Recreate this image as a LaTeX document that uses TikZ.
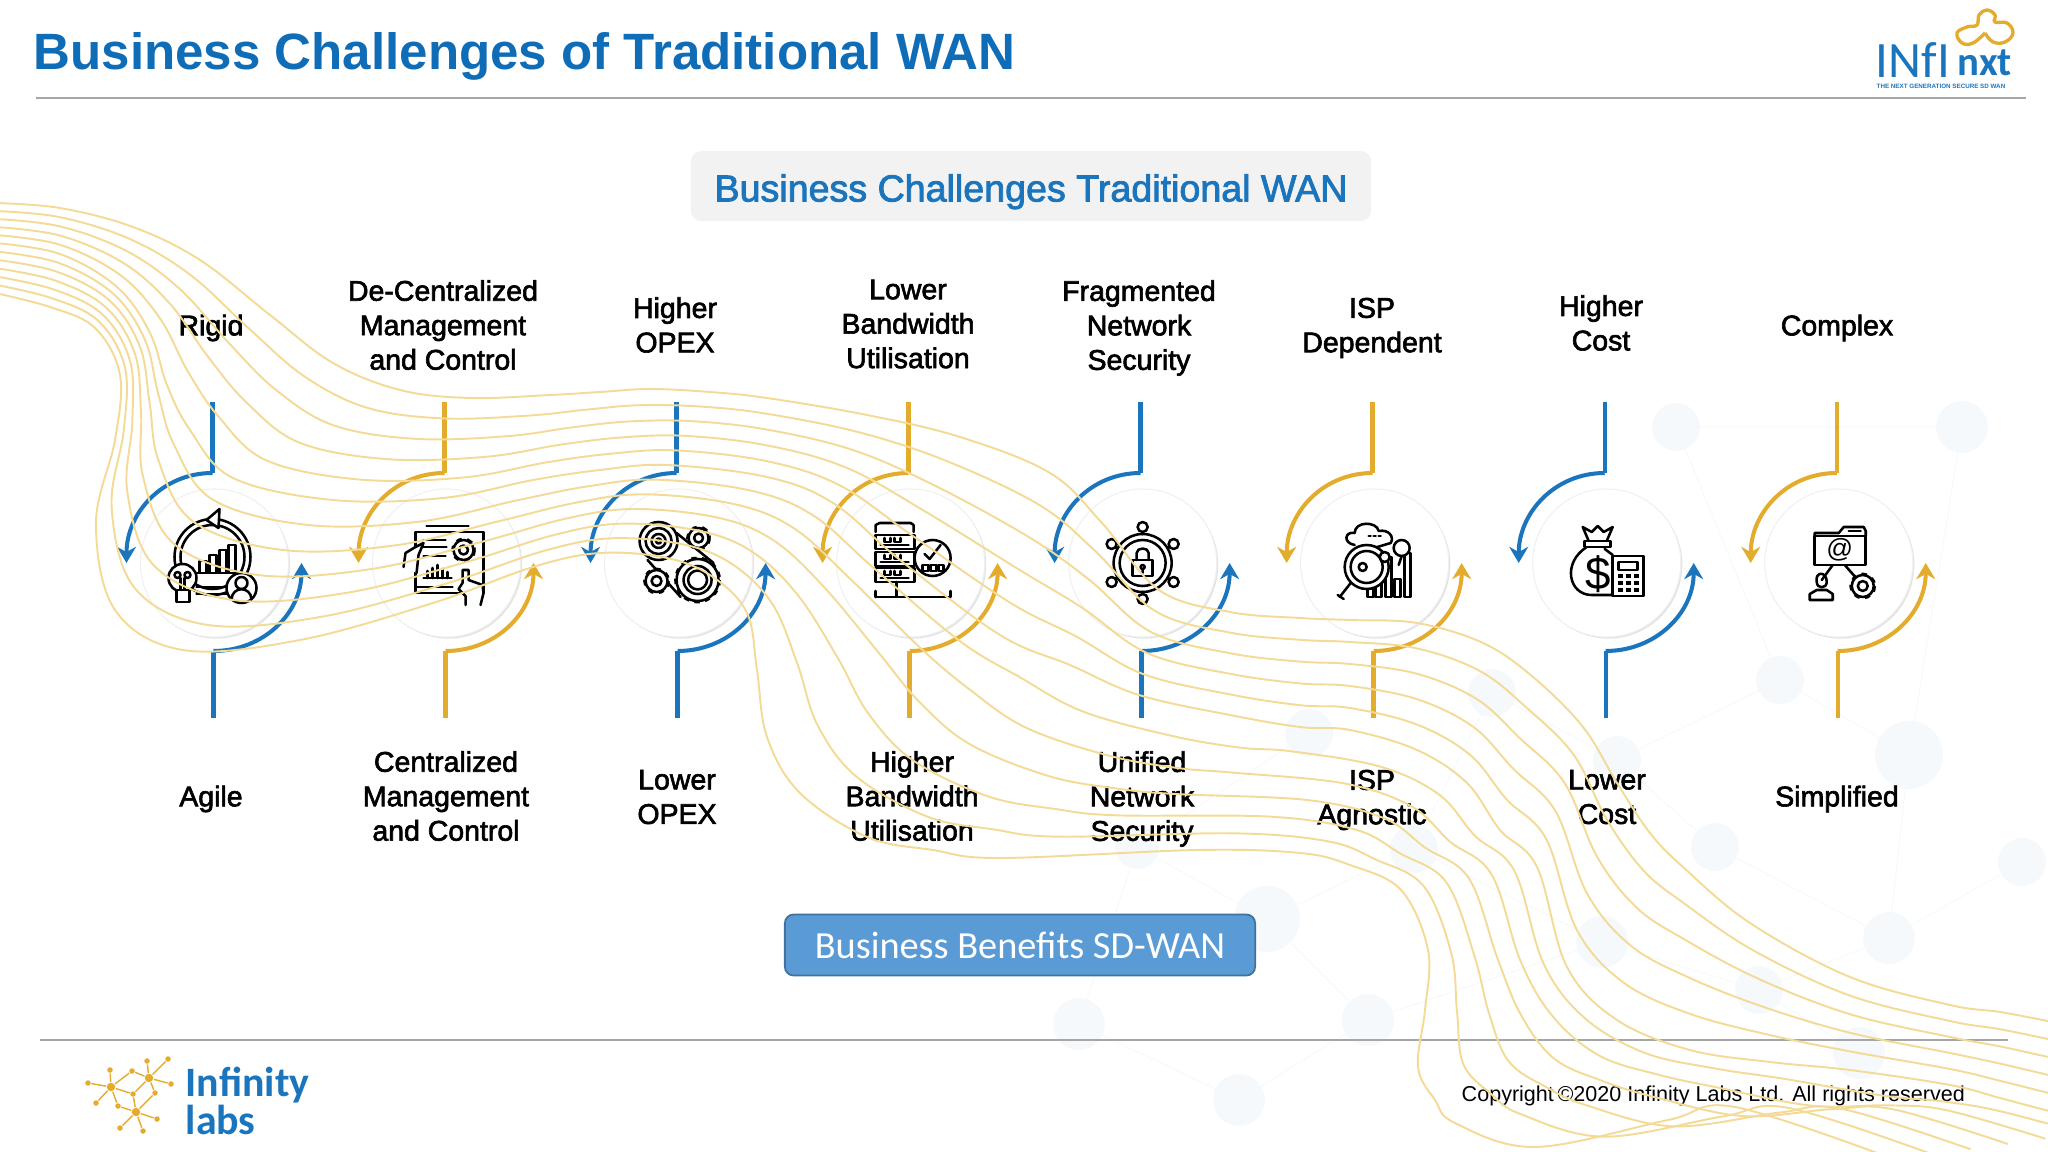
\documentclass[tikz,border=0pt]{standalone}
\usepackage{fontspec}
\setmainfont{Liberation Sans}
\newfontfamily\labelfont{Liberation Sans}[FakeBold=2.2]
\newfontfamily\calibri{Carlito}
\usetikzlibrary{positioning,calc,arrows.meta,shadows}

\definecolor{flowblue}{HTML}{1B75BC}
\definecolor{flowgold}{HTML}{E3AC2C}
\definecolor{wavegold}{HTML}{F3DA96}
\definecolor{titleblue}{HTML}{0F6CB6}
\definecolor{netpale}{HTML}{F6F9FB}
\definecolor{benefitfill}{HTML}{5B9BD5}
\definecolor{benefitline}{HTML}{41719C}

% stem, bend and arrow on both sides of a hub
\newcommand{\hubflow}[2]{
  \coordinate (#1in)   at ($(#1)+(-2,-161)$);
  \coordinate (#1bend) at ($(#1)+(-2,-90)$);
  \coordinate (#1tip)  at ($(#1)+(-88,0)$);
  \coordinate (#1base) at ($(#1)+(-1,155)$);
  \coordinate (#1knee) at ($(#1)+(-1,88)$);
  \coordinate (#1out)  at ($(#1)+(87,0)$);
  \draw[stem=#2] (#1in) -- (#1bend);
  \draw[bend=#2] (#1bend) .. controls +(left:.5cm) and +(up:.5cm) .. (#1tip);
  \draw[stem=#2] (#1base) -- (#1knee);
  \draw[bend=#2] (#1knee) .. controls +(right:.5cm) and +(down:.5cm) .. (#1out);
}
% toothed wheel: x, y, radius
\newcommand{\icogear}[3]{
  \draw[black,line width=1.1pt,dash pattern=on 1.5pt off 1.5pt] (#1,#2) circle[radius={#3+.5}];
  \draw[ic,fill=white] (#1,#2) circle[radius=#3];
  \draw[ic] (#1,#2) circle[radius={#3*.45}];
}

\tikzset{
  ic/.style={line width=.72pt,draw=black,line join=round,line cap=round},
  pics/rigidicon/.style={code={
    \draw[ic] (-2,-6) circle[radius=38];
    \draw[ic] (-2,-6) circle[radius=32];
    \draw[ic,fill=white] (-8,-43) -- (5,-54) -- (4,-35) -- cycle;
    \foreach \bx/\by in {-15/-2,-5/-8,5/-13,14/-18} \draw[ic,fill=white] (\bx,10) rectangle ++(7,\by-10);
    \draw[ic] (-18,10) -- (22,10);
    \draw[ic] (-18,24) -- (14,24) (-18,31) -- (14,31);
    \draw[ic,fill=white] (-32,15) circle[radius=14];
    \draw[ic,fill=white] (-38,27) rectangle (-25,39);
    \draw[ic] (-37,12) circle[radius=3] (-27,12) circle[radius=3] (-34,15) -- (-34,26) (-30,15) -- (-30,26);
    \draw[ic,fill=white] (27,25) circle[radius=15];
    \draw[ic] (27,20) circle[radius=6] (17,36) .. controls (18,23) and (36,23) .. (37,36);
  }},
  pics/centralicon/.style={code={
    \draw[ic] (-31,-31) rectangle (37,30);
    \draw[ic] (-20,-37) -- (22,-37) (-23,-23) -- (-1,-23) (-23,-16) -- (0,-16) (-23,-7) -- (-1,-7);
    \icogear{17}{-13}{10}
    \foreach \bx/\by in {-19/8,-14/5,-9/2,-4/6,1/9} \draw[ic] (\bx,15) -- (\bx,\by);
    \draw[ic] (-23,15) -- (5,15) (-31,24) -- (6,24);
    \draw[ic,fill=white] (-43,4) -- (-41,-10) -- (-31,-16) -- (-23,-20) -- (-28,-8) -- (-30,10);
    \draw[ic,fill=white] (19,42) -- (19,33) -- (12,26) -- (16,20) -- (16,7) -- (22,7) -- (22,17) -- (36,22) -- (37,30) -- (34,42);
  }},
  pics/opexicon/.style={code={
    \draw[ic] (-2,-30) -- (35,0) (-31,-3) -- (2,34);
    \draw[ic,fill=white] (-20,-22) circle[radius=19];
    \draw[ic] (-20,-22) circle[radius=13] (-20,-22) circle[radius=7] (-20,-22) circle[radius=2.5];
    \icogear{20}{-25}{10}
    \icogear{19}{17}{21}
    \draw[ic] (19,17) circle[radius=14];
    \icogear{-22}{18}{11}
  }},
  pics/bandwidthicon/.style={code={
    \draw[ic] (-35,-31) -- (-35,-38) -- (-31,-40) -- (0,-40) -- (3,-38) -- (3,-31);
    \foreach \ry in {-28,-11,5} {
      \draw[ic] (-35,\ry) rectangle (4,\ry+14);
      \draw[ic] (-26,\ry+3) -- (-26,\ry+7) -- (-20,\ry+7) -- (-20,\ry+3) (-16,\ry+3) -- (-16,\ry+7) -- (-10,\ry+7) -- (-10,\ry+3);
      \draw[ic] (-30,\ry+10) -- (-2,\ry+10);
    }
    \draw[ic] (-14,19) -- (-14,33);
    \draw[ic] (-35,34) -- (40,34) (-35,28) -- (-35,34) (40,28) -- (40,34);
    \draw[ic,fill=white] (22,-5) circle[radius=18];
    \draw[ic] (14,-9) -- (19,-4) -- (30,-18);
    \draw[ic] (12,2) rectangle (18,8) (20,2) rectangle (26,8) (28,2) rectangle (33,8);
  }},
  pics/securityicon/.style={code={
    \foreach \nx/\ny/\sx/\sy in {0/-36/0/-29,-31/-19/-25/-15,31/-19/25/-15,-31/19/-25/15,31/19/25/15,0/36/0/29} {
      \draw[ic] (\nx,\ny) -- (\sx,\sy);
      \draw[ic,fill=white] (\nx,\ny) circle[radius=5];
    }
    \draw[ic] (0,0) circle[radius=29] (0,0) circle[radius=23];
    \draw[ic] (-10,-3) rectangle (10,13);
    \draw[ic] (-6,-3) -- (-6,-10) .. controls (-6,-16) and (6,-16) .. (6,-10) -- (6,-3);
    \draw[ic] (0,4) circle[radius=2] (0,6) -- (0,10);
  }},
  pics/ispicon/.style={code={
    \draw[ic] (-20,-18) .. controls (-32,-20) and (-30,-32) .. (-20,-30) .. controls (-20,-42) and (2,-42) .. (4,-32)
       .. controls (14,-34) and (20,-26) .. (16,-20) -- (-4,-14);
    \draw[ic] (-6,-27) -- (-4,-27) (-1,-27) -- (1,-27) (4,-27) -- (6,-27);
    \foreach \bx/\by in {-7/14,1/2,11/-6,20/16,30/-10} \draw[ic,fill=white] (\bx,34) rectangle ++(6,\by-34);
    \draw[ic,fill=white] (-8,4) circle[radius=22];
    \draw[ic] (-8,4) circle[radius=16];
    \draw[ic] (-12,4) circle[radius=4];
    \draw[ic] (-24,20) -- (-35,34);
    \draw[ic] (-31,36) -- (-37,32);
    \draw[ic,fill=white] (27,-15) circle[radius=8];
    \draw[ic] (27,-7) -- (24,2);
    \draw[ic,fill=white] (10,-6) circle[radius=5];
  }},
  pics/costicon/.style={code={
    \draw[ic] (-18,-22) -- (-24,-36) -- (-15,-31) -- (-9,-37) -- (-3,-31) -- (6,-36) -- (0,-22);
    \draw[ic] (-22,-22) rectangle (4,-16);
    \draw[ic] (-20,-16) .. controls (-45,0) and (-38,32) .. (-15,32) -- (6,32);
    \draw[ic] (-2,-14) -- (6,-8);
    \node[font=\fontsize{13}{13}\selectfont] (costsign) at (-9,11) {\$};
    \draw[ic,fill=white] (6,-7) rectangle (37,33);
    \draw[ic] (12,-1) rectangle (31,7);
    \foreach \kx in {13,21,29} \foreach \ky in {13,20,27} \draw[ic,line width=1pt,line cap=butt] (\kx-2,\ky) -- (\kx+3,\ky);
  }},
  pics/complexicon/.style={code={
    \draw[ic] (-24,-27) rectangle (27,2);
    \draw[ic] (-24,-27) -- (-24,-30) -- (0,-30) -- (5,-36) -- (25,-36) -- (27,-32) -- (27,-27);
    \draw[ic] (10,-32) -- (22,-32);
    \node[font=\fontsize{7.5}{7.5}\selectfont] (complexsign) at (1,-13) {@};
    \draw[ic] (-6,2) -- (-17,17) (6,2) -- (20,18);
    \draw[ic] (-22,19) .. controls (-24,8) and (-12,8) .. (-12,19) .. controls (-12,26) and (-22,26) .. (-22,19);
    \draw[ic] (-29,37) -- (-29,31) -- (-22,27) -- (-12,27) -- (-6,31) -- (-6,37) -- cycle;
    \icogear{24}{23}{11}
  }}
}

\begin{document}
\begin{tikzpicture}[
    x=.01cm, y=-.01cm,
    node distance=.839cm,
    hub/.style={circle, fill=white, draw=black!6, line width=.3pt, outer sep=0pt, inner sep=0pt, minimum size=1.48cm,
      drop shadow={opacity=.22, shadow xshift=.45pt, shadow yshift=-.45pt, fill=black!50}},
    stem/.style={draw=#1, line width=1.25pt},
    bend/.style={draw=#1, line width=1.15pt, -{Stealth[length=4.6pt, width=5.4pt, inset=1.5pt]}},
    toptext/.style={font=\labelfont\fontsize{8.1}{9.8}\selectfont, align=center, inner sep=0pt},
    boxtitle/.style={rectangle, rounded corners=3pt, fill=black!5, minimum width=6.8cm, minimum height=.7cm, inner sep=0pt,
      text=flowblue, font=\labelfont\fontsize{10.7}{12}\selectfont},
    benefit/.style={rectangle, rounded corners=2.5pt, fill=benefitfill, draw=benefitline, line width=.5pt,
      minimum width=4.7cm, minimum height=.61cm, inner sep=0pt, text=white, font=\calibri\fontsize{10.9}{12}\selectfont},
    rule/.style={draw=black!35, line width=.4pt},
    dot/.style={circle, fill=flowgold, inner sep=0pt, minimum size=#1},
    wave/.style={draw=wavegold, line width=.55pt}
   ]
   \useasboundingbox (0,0) rectangle (2048,1152);

   %pale network behind everything
   \foreach \nx/\ny/\nr in {1676/427/24,1962/427/26,1780/680/24,1909/755/34,1715/847/24,2022/862/24,1889/938/26,1759/990/24,
       1602/942/26,1492/693/24,1617/760/24,1414/849/24,1309/733/24,1137/847/22,1267/919/33,1368/1020/26,1079/1024/26,1239/1100/26,1859/1053/26}
     \fill[netpale] (\nx,\ny) circle[radius=\nr];
   \draw[netpale,line width=.3pt] (1676,427) -- (1962,427) -- (1909,755) -- (1780,680) -- (1676,427) (1780,680) -- (1617,760) -- (1715,847) -- (1889,938) -- (1909,755)
     (1889,938) -- (2022,862) (1617,760) -- (1492,693) -- (1414,849) -- (1267,919) -- (1137,847) -- (1079,1024) -- (1239,1100) -- (1368,1020) -- (1267,919)
     (1759,990) -- (1889,938) (1759,990) -- (1602,942) -- (1414,849) (1368,1020) -- (1602,942) (1759,990) -- (1859,1053) (1309,733) -- (1137,847);

   \node[font=\bfseries\fontsize{14.52}{16}\selectfont, text=titleblue, anchor=west, inner sep=0pt] (title) at (33,56) {Business Challenges of Traditional WAN};
   \coordinate (headL) at (36,98);
   \coordinate (headR) at (2026,98);
   \draw[rule] (headL) -- (headR);
   \coordinate (footL) at (40,1040);
   \coordinate (footR) at (2008,1040);
   \draw[rule] (footL) -- (footR);

   \node[boxtitle] (challenges) at (1031,186) {\raisebox{-4.4pt}[0pt][0pt]{Business Challenges Traditional WAN}};
   \node[benefit]  (benefits)   at (1020,945) {Business Benefits SD-WAN};

   \node[hub]                    (rigid)     at (214.5,563) {};
   \node[hub, right=of rigid]    (central)   {};
   \node[hub, right=of central]  (opex)      {};
   \node[hub, right=of opex]     (bandwidth) {};
   \node[hub, right=of bandwidth] (security) {};
   \node[hub, right=of security] (isp)       {};
   \node[hub, right=of isp]      (cost)      {};
   \node[hub, right=of cost]     (complex)   {};

   \hubflow{rigid}{flowblue}
   \hubflow{central}{flowgold}
   \hubflow{opex}{flowblue}
   \hubflow{bandwidth}{flowgold}
   \hubflow{security}{flowblue}
   \hubflow{isp}{flowgold}
   \hubflow{cost}{flowblue}
   \hubflow{complex}{flowgold}

   \pic at (rigid) {rigidicon};
   \pic at (central) {centralicon};
   \pic at (opex) {opexicon};
   \pic at (bandwidth) {bandwidthicon};
   \pic at (security) {securityicon};
   \pic at (isp) {ispicon};
   \pic at (cost) {costicon};
   \pic at (complex) {complexicon};

   \node[toptext] (rigidUp)     at (211,328)  {Rigid};
   \node[toptext] (centralUp)   at (443,325)  {De-Centralized\\Management\\and Control};
   \node[toptext] (opexUp)      at (675,325)  {Higher\\OPEX};
   \node[toptext] (bandwidthUp) at (908,324)  {Lower\\Bandwidth\\Utilisation};
   \node[toptext] (securityUp)  at (1139,328) {Fragmented\\Network\\Security};
   \node[toptext] (ispUp)       at (1372,328) {ISP\\Dependent};
   \node[toptext] (costUp)      at (1601,323) {Higher\\Cost};
   \node[toptext] (complexUp)   at (1837,328) {Complex};

   \node[toptext] (rigidDown)     at (211,799)  {Agile};
   \node[toptext] (centralDown)   at (446,796)  {Centralized\\Management\\and Control};
   \node[toptext] (opexDown)      at (677,797)  {Lower\\OPEX};
   \node[toptext] (bandwidthDown) at (912,796)  {Higher\\Bandwidth\\Utilisation};
   \node[toptext] (securityDown)  at (1142,799) {Unified\\Network\\Security};
   \node[toptext] (ispDown)       at (1372,800) {ISP\\Agnostic};
   \node[toptext] (costDown)      at (1607,797) {Lower\\Cost};
   \node[toptext] (complexDown)   at (1837,799) {Simplified};

   %top right logo
   \draw[draw=flowgold, line width=.95pt] plot[smooth, tension=.7] coordinates {(1985,33) (1993,42) (2005,42) (2013,33) (2007,23) (1995,22) (1995,15) (1987,10) (1979,15) (1977,25) (1967,27) (1957,33) (1962,43) (1973,43) (1985,33)};
   \node[text=flowblue, font=\calibri\fontsize{14.5}{15}\selectfont, anchor=base west, inner sep=0pt] (infi) at (1875,78) {INfI};
   \node[text=flowblue, font=\calibri\bfseries\fontsize{11.6}{12}\selectfont, anchor=base west, inner sep=0pt] (nxt) at (1957,76) {nxt};
   \node[text=flowblue, font=\bfseries\fontsize{1.78}{2}\selectfont, anchor=west, inner sep=0pt] (tagline) at (1876,86) {THE NEXT GENERATION SECURE SD WAN};

   %bottom left logo
   \foreach \dn/\dx/\dy/\ds in {la/111/1087/.85mm,lb/149/1078/.85mm,lc/136/1112/.85mm,da/88/1083/.55mm,db/96/1103/.55mm,dc/110/1070/.55mm,dd/132/1071/.55mm,
       de/147/1061/.55mm,df/168/1059/.55mm,dg/171/1084/.55mm,dh/155/1093/.55mm,di/133/1094/.55mm,dj/118/1106/.55mm,dk/157/1119/.55mm,dl/143/1131/.55mm,dm/120/1128/.55mm}
     \node[dot=\ds] (\dn) at (\dx,\dy) {};
   \draw[flowgold, line width=.4pt] (la) -- (da) (la) -- (db) (la) -- (dc) (la) -- (dd) -- (lb) (lb) -- (de) (lb) -- (df) (lb) -- (dg) (lb) -- (dh) -- (lc)
     (lb) -- (di) -- (lc) (la) -- (di) (la) -- (dj) -- (lc) (lc) -- (dk) (lc) -- (dl) (lc) -- (dm);
   \node[text=flowblue, font=\calibri\bfseries\fontsize{11.9}{10.6}\selectfont, align=left, anchor=west, inner sep=0pt] (labs) at (185,1101) {Infinity\\labs};

   \node[font=\fontsize{6.13}{7}\selectfont, anchor=west, inner sep=0pt] (copyright) at (1461,1096) {Copyright\,©2020 Infinity Labs Ltd. All rights reserved};

   %wave lines on top of everything
   \foreach \i in {0,...,11} {
     \pgfmathsetmacro\mixa{min(\i/5,1)}
     \pgfmathsetmacro\mixb{max((\i-5)/6,0)}
     \gdef\wavepts{}
     \foreach \xa/\ya/\xb/\yb/\xc/\yc in {-5/203/-5/243/-5/293, 60/208/60/254/50/307, 133/227/117/287/95/328, 200/260/150/333/120/375,
         270/315/167/385/115/440, 333/363/190/430/96/523, 400/390/233/478/115/610, 470/398/333/500/183/650, 550/395/443/498/300/640,
         600/392/533/480/433/603, 650/389/600/470/533/567, 710/392/667/465/600/553, 767/398/767/477/667/558, 867/415/833/503/713/577,
         960/437/900/560/747/613, 1050/473/1000/635/757/670, 1102/523/1070/665/767/737, 1159/590/1139/695/800/793,
         1230/612/1230/715/867/837, 1300/618/1300/727/933/850, 1350/620/1350/730/1000/858, 1417/623/1417/750/1197/850, 1483/643/1467/783/1300/853,
         1533/677/1500/830/1350/865, 1583/727/1537/867/1401/890, 1617/783/1567/967/1428/950, 1650/833/1617/1020/1425/1010, 1683/867/1690/1050/1418/1067,
         1750/923/1770/1062/1435/1100, 1850/977/1850/1070/1455/1123, 1950/1005/1950/1085/1535/1147, 2000/1012/2000/1098/1668/1120,
         2053/1022/2053/1112/1735/1107, 2120/1035/2120/1128/1896/1160} {
       \pgfmathsetmacro\px{\xa+\mixa*(\xb-\xa)+\mixb*(\xc-\xb)}
       \pgfmathsetmacro\py{\ya+\mixa*(\yb-\ya)+\mixb*(\yc-\yb)}
       \xdef\wavepts{\wavepts (\px,\py)}
     }
     \edef\drawwave{\noexpand\draw[wave] plot[smooth, tension=.6] coordinates {\wavepts};}
     \drawwave
   }
 \end{tikzpicture}
\end{document}
